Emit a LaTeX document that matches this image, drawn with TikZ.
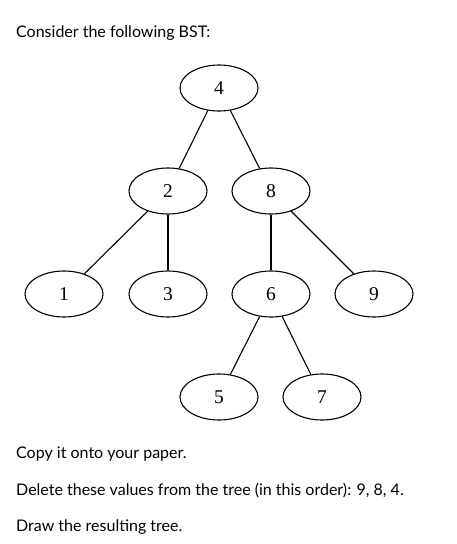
\documentclass[tikz,border=0pt]{standalone}
\usepackage{fontspec}
\setmainfont{Lato}
\newfontfamily\dotfont{Liberation Serif}
\usepackage{tikz}
\usetikzlibrary{shapes.geometric}

\tikzset{
  bst/.style={draw, ellipse, line width=1.1pt, minimum width=78pt, minimum height=46pt,
    inner sep=0pt, font=\dotfont\fontsize{19.5}{19.5}\selectfont},
  edge/.style={line width=1.1pt},
  prose/.style={anchor=base west, inner sep=0pt, font=\fontsize{16}{20}\selectfont}
}

\begin{document}
\begin{tikzpicture}[x=1pt, y=-1pt]
		\useasboundingbox (0, 0) rectangle (456, 544);
		\node[prose] (ask) at (16, 37) {Consider the following BST:};
		% the tree
		\node[bst] (n4) at (219, 88) {4};
		\node[bst] (n2) at (168, 191) {2};
		\node[bst] (n8) at (271, 191) {8};
		\node[bst] (n1) at (64, 294) {1};
		\node[bst] (n3) at (168, 294) {3};
		\node[bst] (n6) at (271, 294) {6};
		\node[bst] (n9) at (374, 294) {9};
		\node[bst] (n5) at (219, 397) {5};
		\node[bst] (n7) at (322, 397) {7};
		\draw[edge] (n4) -- (n2);
		\draw[edge] (n4) -- (n8);
		\draw[edge] (n2) -- (n1);
		\draw[edge] (n2) -- (n3);
		\draw[edge] (n8) -- (n6);
		\draw[edge] (n8) -- (n9);
		\draw[edge] (n6) -- (n5);
		\draw[edge] (n6) -- (n7);
		% the task
		\node[prose] (copy) at (16, 458) {Copy it onto your paper.};
		\node[prose] (del) at (16, 495) {Delete these values from the tree (in this order): 9, 8, 4.};
		\node[prose] (res) at (16, 531) {Draw the resulting tree.};
	\end{tikzpicture}
\end{document}
